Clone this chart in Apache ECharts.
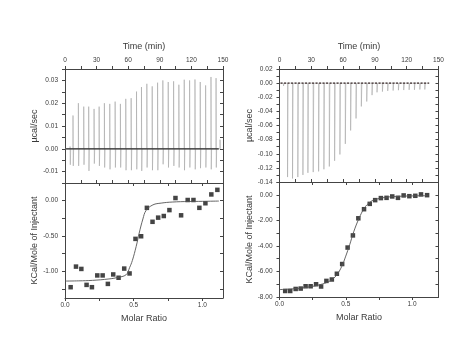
<!DOCTYPE html>
<html><head><meta charset="utf-8">
<script src="https://cdn.jsdelivr.net/npm/echarts@6/dist/echarts.min.js"></script>
<style>html,body{margin:0;padding:0;background:#fff}#c{width:474px;height:364px}</style>
</head><body><div id="c"></div>
<script>
// ---- Left experiment: raw thermogram (time in min, µcal/sec)
const leftTimes = [4.8,7.6,12.7,17.8,22.5,27.6,32.4,37.4,42.5,47.6,52.6,57.7,62.8,67.9,72.6,77.7,82.8,87.9,92.9,98.0,103.1,108.1,113.2,118.3,123.4,128.4,133.5,138.6,143.4,147.2];
const leftPeaks = [0.001,0.0146,0.020,0.0185,0.0185,0.0175,0.0185,0.020,0.0197,0.0207,0.0197,0.0219,0.0222,0.0251,0.0271,0.0285,0.0274,0.029,0.030,0.0293,0.0296,0.0281,0.0303,0.030,0.0304,0.0293,0.0278,0.0315,0.031,0.004];
const leftDips  = [-0.007,-0.0075,-0.0075,-0.007,-0.0097,-0.0065,-0.0075,-0.0082,-0.009,-0.0082,-0.0082,-0.0094,-0.0094,-0.009,-0.0097,-0.0082,-0.0094,-0.0094,-0.0068,-0.0082,-0.0075,-0.0082,-0.0094,-0.0082,-0.009,-0.0085,-0.0082,-0.009,-0.0082,0];
// ---- Left experiment: integrated heats (molar ratio, kcal/mol)
const leftRatio = [0.041,0.080,0.119,0.157,0.196,0.235,0.274,0.312,0.351,0.390,0.431,0.470,0.513,0.554,0.596,0.637,0.678,0.719,0.760,0.804,0.845,0.893,0.935,0.978,1.022,1.065,1.109];
const leftHeat  = [-1.227,-0.935,-0.968,-1.194,-1.227,-1.06,-1.06,-1.18,-1.046,-1.093,-0.963,-1.032,-0.542,-0.505,-0.102,-0.30,-0.241,-0.218,-0.134,0.037,-0.208,0.009,0.009,-0.102,-0.037,0.088,0.153];
const leftFitX = [0.0,0.1,0.2,0.32,0.38,0.445,0.47,0.49,0.518,0.54,0.567,0.59,0.64,0.7,0.78,0.9,1.0,1.12];
const leftFitY = [-1.14,-1.137,-1.13,-1.11,-1.09,-1.05,-0.95,-0.85,-0.65,-0.46,-0.26,-0.14,-0.06,-0.035,-0.02,-0.012,-0.01,-0.006];
// ---- Right experiment: raw thermogram
const rightTimes = [3.8,7.6,12.3,17.3,22.1,26.8,31.8,36.9,41.9,47.0,52.0,57.0,62.1,67.1,72.2,77.2,82.3,87.3,92.0,97.1,102.1,107.2,112.2,117.2,122.3,127.3,132.4,137.1];
const rightPeaks = [-0.004,-0.133,-0.135,-0.133,-0.13,-0.127,-0.126,-0.125,-0.122,-0.118,-0.11,-0.101,-0.086,-0.067,-0.05,-0.033,-0.026,-0.017,-0.013,-0.012,-0.011,-0.0105,-0.01,-0.0098,-0.0095,-0.0095,-0.009,-0.009];
// ---- Right experiment: integrated heats
const rightRatio = [0.043,0.081,0.122,0.160,0.197,0.235,0.276,0.314,0.354,0.395,0.433,0.473,0.514,0.554,0.595,0.638,0.681,0.722,0.765,0.808,0.851,0.894,0.937,0.980,1.025,1.068,1.114];
const rightHeat  = [-7.53,-7.53,-7.37,-7.34,-7.16,-7.16,-7.0,-7.18,-6.74,-6.63,-6.18,-5.42,-4.13,-3.18,-1.84,-1.13,-0.71,-0.42,-0.26,-0.24,-0.13,-0.24,-0.05,-0.11,-0.08,0.03,-0.03];
const rightFitX = [0.0,0.1,0.2,0.3,0.38,0.43,0.47,0.5,0.53,0.56,0.6,0.64,0.68,0.72,0.8,0.9,1.0,1.12];
const rightFitY = [-7.42,-7.36,-7.25,-7.05,-6.75,-6.3,-5.6,-4.8,-3.9,-2.9,-1.85,-1.05,-0.6,-0.38,-0.2,-0.12,-0.09,-0.07];
// ---- Tick labels
const timeTicks = [0,30,60,90,120,150];
const timeMinor = [15,45,75,105,135];
const leftRawTicks = [-0.01,0.00,0.01,0.02,0.03];
const leftRawMinor = [-0.015,-0.005,0.005,0.015,0.025,0.035];
const rightRawTicks = [-0.14,-0.12,-0.10,-0.08,-0.06,-0.04,-0.02,0.00,0.02];
const rightRawMinor = [-0.13,-0.11,-0.09,-0.07,-0.05,-0.03,-0.01,0.01];
const leftHeatTicks = [-1.00,-0.50,0.00];
const leftHeatMinor = [-1.25,-0.75,-0.25,0.25];
const rightHeatTicks = [-8,-6,-4,-2,0];
const rightHeatMinor = [-7,-5,-3,-1,1];
const ratioTicks = [0.0,0.5,1.0];
const ratioMinor = [0.25,0.75];

function leftTrace(){
  const d=[[0.5,0]];
  for(let i=0;i<leftTimes.length;i++){
    const t=leftTimes[i];
    d.push([t-0.05,0],[t,leftPeaks[i]],[t+0.25,leftDips[i]],[t+0.6,0]);
  }
  d.push([147.6,0]);
  return d;
}
function rightTrace(){
  const d=[[0.5,0]];
  for(let i=0;i<rightTimes.length;i++){
    const t=rightTimes[i];
    d.push([t-0.05,0],[t,rightPeaks[i]],[t+0.5,0]);
  }
  d.push([142,0]);
  return d;
}
const zip=(a,b)=>a.map((v,i)=>[v,b[i]]);

const FONT='Liberation Sans';
const TXT='#3a3a3a';
const AX='#444';
const lblStyle={fontFamily:FONT,fontSize:6.5,color:TXT};
const nameStyle={fontFamily:FONT,fontSize:9,color:TXT};

function fmt(dec){return v=>{let s=Number(v).toFixed(dec); if(parseFloat(s)===0) s=(0).toFixed(dec); return s;};}

function primX(grid,min,max,ticks,minor,pos,name,gap,margin,dec){
  return {type:'value',gridIndex:grid,min:min,max:max,position:pos,
    name:name,nameLocation:'middle',nameGap:gap,nameTextStyle:nameStyle,
    axisLine:{show:true,onZero:false,lineStyle:{color:AX,width:1}},
    axisTick:{show:true,inside:false,length:3,customValues:ticks.concat(minor),lineStyle:{color:AX}},
    axisLabel:{show:true,margin:margin,customValues:ticks,formatter:fmt(dec),...lblStyle},
    splitLine:{show:false}};
}
function mirX(grid,min,max,ticks,minor,pos){
  return {type:'value',gridIndex:grid,min:min,max:max,position:pos,
    axisLine:{show:true,onZero:false,lineStyle:{color:AX,width:1}},
    axisTick:{show:true,inside:true,length:3,customValues:ticks.concat(minor),lineStyle:{color:AX}},
    axisLabel:{show:false},splitLine:{show:false}};
}
function primY(grid,min,max,ticks,minor,name,gap,dec){
  return {type:'value',gridIndex:grid,min:min,max:max,position:'left',
    name:name,nameLocation:'middle',nameGap:gap,nameTextStyle:nameStyle,nameRotate:90,
    axisLine:{show:true,onZero:false,lineStyle:{color:AX,width:1}},
    axisTick:{show:true,inside:false,length:3,customValues:ticks.concat(minor),lineStyle:{color:AX}},
    axisLabel:{show:true,margin:7,customValues:ticks,formatter:fmt(dec),...lblStyle},
    splitLine:{show:false}};
}
function mirY(grid,min,max,ticks,minor){
  return {type:'value',gridIndex:grid,min:min,max:max,position:'right',
    axisLine:{show:true,onZero:false,lineStyle:{color:AX,width:1}},
    axisTick:{show:true,inside:true,length:3,customValues:ticks.concat(minor),lineStyle:{color:AX}},
    axisLabel:{show:false},splitLine:{show:false}};
}

const chart=echarts.init(document.getElementById('c'),null,{renderer:'canvas'});
chart.setOption({
  animation:false,
  backgroundColor:'#fff',
  grid:[
    {left:65,top:69,width:158,height:114},
    {left:65,top:183,width:158,height:115},
    {left:279.5,top:69,width:159,height:113},
    {left:279.5,top:182,width:159,height:115}
  ],
  xAxis:[
    primX(0,0,150,timeTicks,timeMinor,'top','Time (min)',18,5,0),
    mirX(0,0,150,timeTicks,timeMinor,'bottom'),
    primX(1,0,1.15,ratioTicks,ratioMinor,'bottom','Molar Ratio',16,4,1),
    mirX(1,0,1.15,ratioTicks,ratioMinor,'top'),
    primX(2,0,150,timeTicks,timeMinor,'top','Time (min)',18,5,0),
    mirX(2,0,150,timeTicks,timeMinor,'bottom'),
    primX(3,0,1.2,ratioTicks,ratioMinor,'bottom','Molar Ratio',16,4,1),
    mirX(3,0,1.2,ratioTicks,ratioMinor,'top')
  ],
  yAxis:[
    primY(0,-0.015,0.035,leftRawTicks,leftRawMinor,'µcal/sec',25,2),
    mirY(0,-0.015,0.035,leftRawTicks,leftRawMinor),
    primY(1,-1.38,0.25,leftHeatTicks,leftHeatMinor,'KCal/Mole of Injectant',24,2),
    mirY(1,-1.38,0.25,leftHeatTicks,leftHeatMinor),
    primY(2,-0.14,0.02,rightRawTicks,rightRawMinor,'µcal/sec',24,2),
    mirY(2,-0.14,0.02,rightRawTicks,rightRawMinor),
    primY(3,-8,1,rightHeatTicks,rightHeatMinor,'KCal/Mole of Injectant',25,2),
    mirY(3,-8,1,rightHeatTicks,rightHeatMinor)
  ],
  series:[
    {type:'line',xAxisIndex:0,yAxisIndex:0,data:leftTrace(),symbol:'none',lineStyle:{color:'#a6a6a6',width:0.6}},
    {type:'line',xAxisIndex:0,yAxisIndex:0,data:[[1,0],[146,0]],symbol:'none',lineStyle:{color:'#2a2a2a',width:1.3}},
    {type:'line',xAxisIndex:2,yAxisIndex:2,data:zip(leftFitX,leftFitY),symbol:'none',smooth:0.4,lineStyle:{color:'#555',width:0.9}},
    {type:'scatter',xAxisIndex:2,yAxisIndex:2,data:zip(leftRatio,leftHeat),symbol:'rect',symbolSize:4.5,itemStyle:{color:'#151515'}},
    {type:'line',xAxisIndex:4,yAxisIndex:4,data:rightTrace(),symbol:'none',lineStyle:{color:'#a6a6a6',width:0.6}},
    {type:'line',xAxisIndex:4,yAxisIndex:4,data:[[1,0],[141,0]],symbol:'none',lineStyle:{color:'#3a2a2a',width:1.2,type:[2,1.5]}},
    {type:'line',xAxisIndex:6,yAxisIndex:6,data:zip(rightFitX,rightFitY),symbol:'none',smooth:0.4,lineStyle:{color:'#555',width:0.9}},
    {type:'scatter',xAxisIndex:6,yAxisIndex:6,data:zip(rightRatio,rightHeat),symbol:'rect',symbolSize:4.5,itemStyle:{color:'#151515'}}
  ]
});
</script></body></html>
